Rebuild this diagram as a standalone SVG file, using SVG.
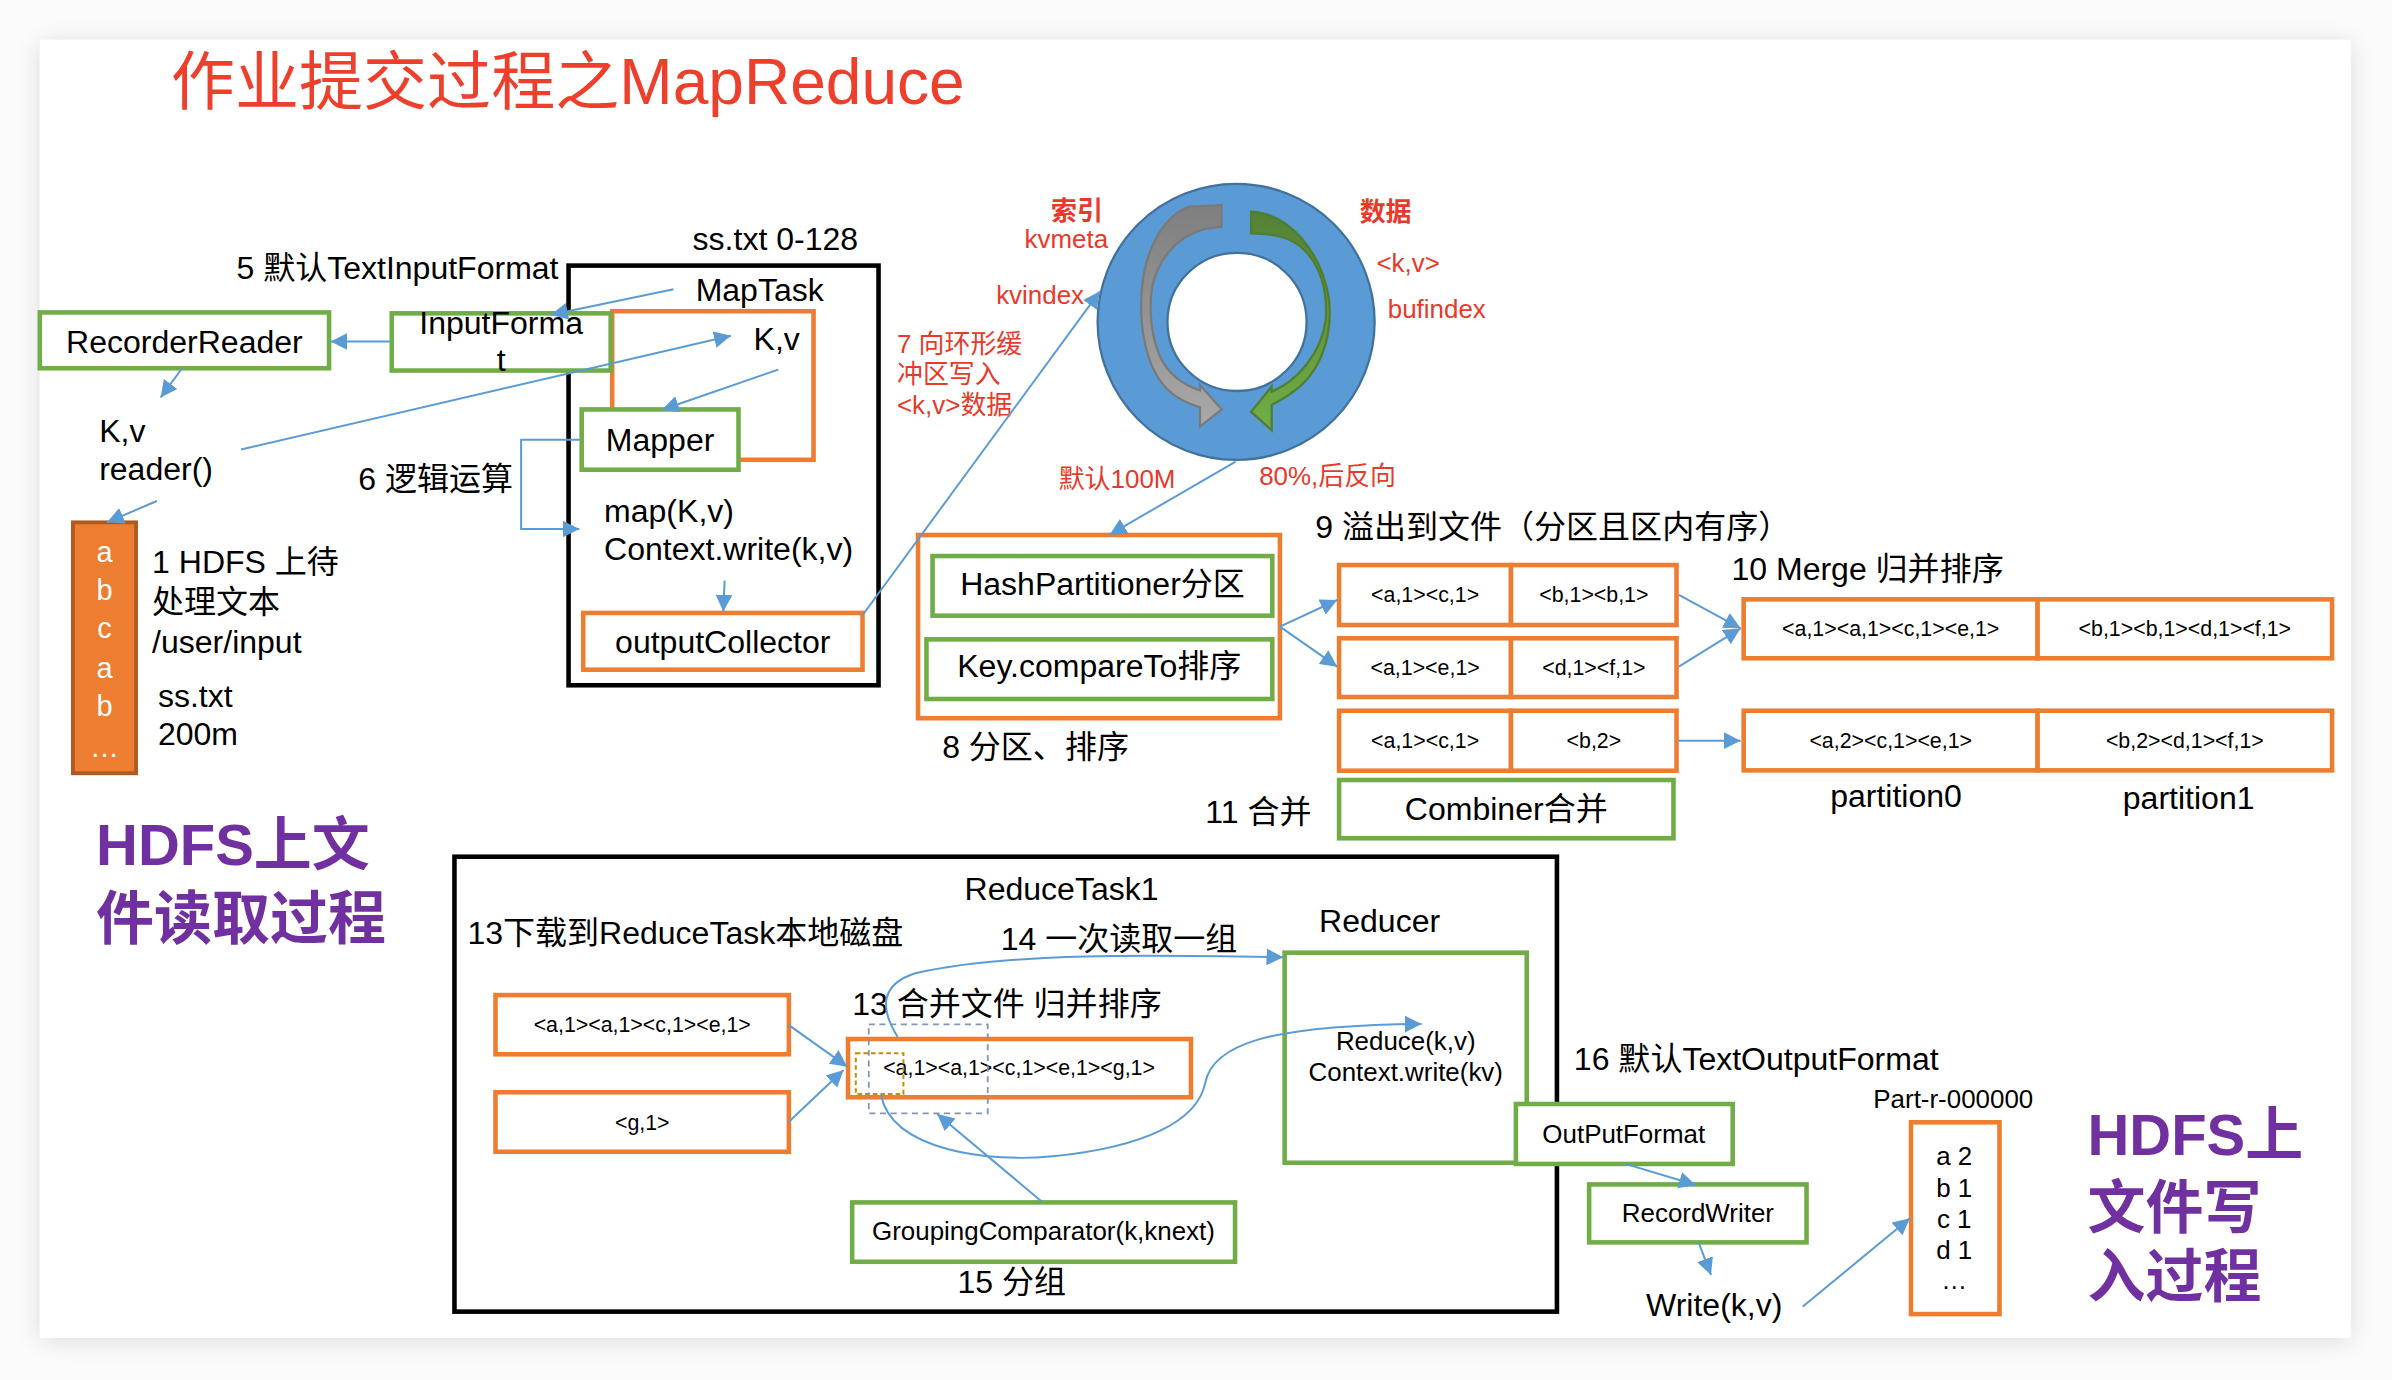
<svg xmlns="http://www.w3.org/2000/svg" width="2392" height="1380" viewBox="0 0 2392 1380">
<defs>
<style>
.t{font-family:"Liberation Sans","Noto Sans CJK SC",sans-serif;fill:#000}
.f21{font-size:21px}.f17{font-size:17px}.f14{font-size:14px}.f19{font-size:19px}
.m{text-anchor:middle}
.red{fill:#e8392a}
.b{font-weight:bold}
.pur{fill:#7030a0;font-weight:bold;font-size:38px}
.ob{fill:#fff;stroke:#ed7d31;stroke-width:3}
.gb{fill:#fff;stroke:#70ad47;stroke-width:3}
.bk{fill:none;stroke:#000;stroke-width:3}
.c{fill:none;stroke:#5b9bd5;stroke-width:1.3;marker-end:url(#ah)}
.n{fill:none;stroke:#5b9bd5;stroke-width:1.3}
</style>
<marker id="ah" markerUnits="userSpaceOnUse" markerWidth="12" markerHeight="12" viewBox="0 0 12 12" refX="11" refY="6" orient="auto">
<path d="M0,0.5 L11,6 L0,11.5 Z" fill="#5b9bd5"/>
</marker>
<linearGradient id="gg" x1="0" y1="0" x2="0" y2="1">
<stop offset="0" stop-color="#7f7f7f"/><stop offset="1" stop-color="#a9a9a9"/>
</linearGradient>
<linearGradient id="gr" x1="0" y1="0" x2="0" y2="1">
<stop offset="0" stop-color="#548235"/><stop offset="1" stop-color="#70ad47"/>
</linearGradient>
<filter id="sh" x="-3%" y="-5%" width="106%" height="110%">
<feGaussianBlur stdDeviation="8"/>
</filter>
</defs>
<rect x="0" y="0" width="2392" height="1380" fill="#fbfbfb"/>
<g transform="scale(1.52551)">
<rect x="26" y="28" width="1515" height="851" fill="#000" opacity="0.12" filter="url(#sh)"/>
<rect x="26" y="26" width="1515" height="851" fill="#fff"/>

<g id="title"><text class="t" x="112" y="68" style="font-size:42px;fill:#ee3f2c">作业提交过程之MapReduce</text></g>

<!-- Map side -->
<g id="maptask">
<rect class="bk" x="372.7" y="174.1" width="203.2" height="275.1"/>
<text class="t f21" x="454" y="164">ss.txt 0-128</text>
<text class="t f21" x="456" y="197">MapTask</text>
<text class="t f21" x="396" y="342.4">map(K,v)</text>
<text class="t f21" x="396" y="367.3">Context.write(k,v)</text>
</g>
<g id="kv-box">
<rect class="ob" x="401.3" y="204" width="132" height="97.4"/>
<text class="t f21" x="494" y="229.7">K,v</text>
</g>
<g id="inputformat">
<rect class="gb" x="256.8" y="205.4" width="143.5" height="37.5"/>
<text class="t f21 m" x="328.5" y="219">InputForma</text>
<text class="t f21 m" x="328.5" y="243">t</text>
</g>
<g id="mapper">
<rect class="gb" x="381.3" y="268.4" width="102.8" height="39.5"/>
<text class="t f21 m" x="432.7" y="295.6">Mapper</text>
</g>
<g id="outputcollector">
<rect class="ob" x="382.3" y="401.8" width="183.1" height="37.2"/>
<text class="t f21 m" x="473.8" y="427.9">outputCollector</text>
</g>
<g id="recorderreader">
<rect class="gb" x="26.1" y="204.8" width="189.6" height="36.6"/>
<text class="t f21 m" x="120.9" y="231.2">RecorderReader</text>
</g>
<g id="label-5"><text class="t f21" x="155" y="183">5 默认TextInputFormat</text></g>
<g id="label-kv-reader">
<text class="t f21" x="65" y="289.7">K,v</text>
<text class="t f21" x="65" y="314.6">reader()</text>
</g>
<g id="label-6"><text class="t f21" x="234.8" y="321.3">6 逻辑运算</text></g>

<g id="hdfs-file">
<rect x="47.8" y="342.4" width="41.4" height="164.5" fill="#ed7d31" stroke="#ae5a21" stroke-width="2.5"/>
<text class="t f19 m" x="68.5" y="368.2" style="fill:#fff">a</text>
<text class="t f19 m" x="68.5" y="393.3" style="fill:#fff">b</text>
<text class="t f19 m" x="68.5" y="418.4" style="fill:#fff">c</text>
<text class="t f19 m" x="68.5" y="444.2" style="fill:#fff">a</text>
<text class="t f19 m" x="68.5" y="469.1" style="fill:#fff">b</text>
<text class="t f19 m" x="68.5" y="496" style="fill:#fff">…</text>
</g>
<g id="label-1">
<text class="t f21" x="99.7" y="375.8">1 HDFS 上待</text>
<text class="t f21" x="99.7" y="402">处理文本</text>
<text class="t f21" x="99.7" y="428.3">/user/input</text>
<text class="t f21" x="103.5" y="463.2">ss.txt</text>
<text class="t f21" x="103.5" y="488.4">200m</text>
</g>
<g id="label-hdfs-read">
<text class="t pur" x="63" y="567">HDFS上文</text>
<text class="t pur" x="63" y="615.8">件读取过程</text>
</g>

<!-- ring buffer -->
<g id="ring">
<path fill-rule="evenodd" fill="#5b9bd5" stroke="#41719c" stroke-width="1.5" d="M719.5,211 A90.8,90.5 0 1,0 901.1,211 A90.8,90.5 0 1,0 719.5,211 Z M765.3,211 A45.6,45.3 0 1,1 856.5,211 A45.6,45.3 0 1,1 765.3,211 Z"/>
<path fill="url(#gg)" stroke="#7a7a7a" stroke-width="1.5" d="M800.8,134.4 L780,135.5 C765,140 752,160 749,185 C746,210 750,240 765,255 C772,262 780,265 786.6,267 L786.6,279.7 L800.8,268.3 L786.6,252.4 L786.6,256 C775,252 766,245 761,235 C755,222 753,205 755,190 C758,172 770,155 790,150 L800.8,148.6 Z"/>
<path fill="url(#gr)" stroke="#507e32" stroke-width="1.5" d="M820.1,138.8 C845,140 866,165 871,195 C874,220 866,245 846,258 C842,261 838,263 833.6,265.4 L833.6,282 L820.1,270 L833.6,253.4 L833.6,256.7 C850,250 866,232 869,210 C871,185 862,165 845,157 C838,154 830,153 820.1,152.9 Z"/>
</g>
<g id="ring-labels">
<text class="t f17 red b" x="689" y="144.2">索引</text>
<text class="t f17 red" x="671.6" y="162.8">kvmeta</text>
<text class="t f17 red" x="653" y="199.3">kvindex</text>
<text class="t f17 red b" x="891.3" y="144.6">数据</text>
<text class="t f17 red" x="902.3" y="178.1">&lt;k,v&gt;</text>
<text class="t f17 red" x="909.7" y="208.7">bufindex</text>
<text class="t f17 red" x="694" y="320.1">默认100M</text>
<text class="t f17 red" x="825.4" y="318">80%,后反向</text>
<text class="t f17 red" x="588" y="231.2">7 向环形缓</text>
<text class="t f17 red" x="588" y="251.1">冲区写入</text>
<text class="t f17 red" x="588" y="271.6">&lt;k,v&gt;数据</text>
</g>

<!-- partition / sort -->
<g id="partition-sort">
<rect class="ob" x="601.8" y="350.7" width="237.2" height="120.1"/>
<rect class="gb" x="611.3" y="364.5" width="222.7" height="39.1"/>
<text class="t f21 m" x="722.7" y="390">HashPartitioner分区</text>
<rect class="gb" x="607.3" y="419.1" width="226.7" height="39.1"/>
<text class="t f21 m" x="720.6" y="443.6">Key.compareTo排序</text>
<text class="t f21" x="617.6" y="497.1">8 分区、排序</text>
</g>
<g id="label-9"><text class="t f21" x="862.2" y="352.9">9 溢出到文件（分区且区内有序）</text></g>
<g id="spill-1">
<rect class="ob" x="877.8" y="370.4" width="112.7" height="39.3"/>
<rect class="ob" x="990.5" y="370.4" width="108.5" height="39.3"/>
<text class="t f14 m" x="934.2" y="394.3">&lt;a,1&gt;&lt;c,1&gt;</text>
<text class="t f14 m" x="1044.8" y="394.3">&lt;b,1&gt;&lt;b,1&gt;</text>
</g>
<g id="spill-2">
<rect class="ob" x="877.8" y="418.4" width="112.7" height="38.5"/>
<rect class="ob" x="990.5" y="418.4" width="108.5" height="38.5"/>
<text class="t f14 m" x="934.2" y="442.4">&lt;a,1&gt;&lt;e,1&gt;</text>
<text class="t f14 m" x="1044.8" y="442.4">&lt;d,1&gt;&lt;f,1&gt;</text>
</g>
<g id="spill-3">
<rect class="ob" x="877.8" y="465.9" width="112.7" height="39.3"/>
<rect class="ob" x="990.5" y="465.9" width="108.5" height="39.3"/>
<text class="t f14 m" x="934.2" y="490.5">&lt;a,1&gt;&lt;c,1&gt;</text>
<text class="t f14 m" x="1044.8" y="490.5">&lt;b,2&gt;</text>
</g>
<g id="combiner">
<rect class="gb" x="877.8" y="511.3" width="219.2" height="38.2"/>
<text class="t f21 m" x="987.4" y="537.3">Combiner合并</text>
<text class="t f21" x="790.1" y="539.7">11 合并</text>
</g>
<g id="label-10"><text class="t f21" x="1135" y="380.2">10 Merge 归并排序</text></g>
<g id="merge-1">
<rect class="ob" x="1143" y="392.9" width="192.7" height="38.6"/>
<rect class="ob" x="1335.7" y="392.9" width="193" height="38.6"/>
<text class="t f14 m" x="1239.4" y="417">&lt;a,1&gt;&lt;a,1&gt;&lt;c,1&gt;&lt;e,1&gt;</text>
<text class="t f14 m" x="1432.2" y="417">&lt;b,1&gt;&lt;b,1&gt;&lt;d,1&gt;&lt;f,1&gt;</text>
</g>
<g id="merge-2">
<rect class="ob" x="1143" y="465.9" width="192.7" height="39.1"/>
<rect class="ob" x="1335.7" y="465.9" width="193" height="39.1"/>
<text class="t f14 m" x="1239.4" y="490.5">&lt;a,2&gt;&lt;c,1&gt;&lt;e,1&gt;</text>
<text class="t f14 m" x="1432.2" y="490.5">&lt;b,2&gt;&lt;d,1&gt;&lt;f,1&gt;</text>
<text class="t f21 m" x="1242.9" y="529.3">partition0</text>
<text class="t f21 m" x="1434.7" y="530">partition1</text>
</g>

<!-- reduce side -->
<g id="reducetask">
<rect class="bk" x="297.9" y="561.6" width="722.7" height="298.2"/>
<text class="t f21" x="632.3" y="590">ReduceTask1</text>
<text class="t f21" x="306.4" y="618.8">13下载到ReduceTask本地磁盘</text>
<text class="t f21" x="656" y="622.7">14 一次读取一组</text>
<text class="t f21" x="864.7" y="610.7">Reducer</text>
<text class="t f21" x="558.6" y="665.4">13 合并文件 归并排序</text>
<text class="t f21" x="627.6" y="847.8">15 分组</text>
</g>
<g id="download-a">
<rect class="ob" x="324.8" y="652.3" width="192.3" height="38.8"/>
<text class="t f14 m" x="421" y="676.8">&lt;a,1&gt;&lt;a,1&gt;&lt;c,1&gt;&lt;e,1&gt;</text>
</g>
<g id="download-b">
<rect class="ob" x="324.8" y="716" width="192.3" height="39"/>
<text class="t f14 m" x="421" y="740.5">&lt;g,1&gt;</text>
</g>
<g id="merged-file">
<rect class="ob" x="555.9" y="681.1" width="224.8" height="38.2"/>
<text class="t f14 m" x="668" y="705">&lt;a,1&gt;&lt;a,1&gt;&lt;c,1&gt;&lt;e,1&gt;&lt;g,1&gt;</text>
<rect x="569.5" y="671.5" width="78" height="58.3" fill="none" stroke="#8497b0" stroke-width="1.2" stroke-dasharray="4 3"/>
<rect x="561" y="690.5" width="31.2" height="26.7" fill="none" stroke="#bf9000" stroke-width="1.3" stroke-dasharray="3 2"/>
</g>
<g id="reducer">
<rect class="gb" x="842.1" y="624.5" width="158.7" height="137.7"/>
<text class="t f17 m" x="921.5" y="688.3">Reduce(k,v)</text>
<text class="t f17 m" x="921.5" y="708.5">Context.write(kv)</text>
</g>
<g id="grouping">
<rect class="gb" x="558.6" y="788.2" width="251" height="38.9"/>
<text class="t f17 m" x="684" y="813">GroupingComparator(k,knext)</text>
</g>
<g id="label-16"><text class="t f21" x="1031.7" y="701.4">16 默认TextOutputFormat</text></g>
<g id="outputformat">
<rect class="gb" x="993.7" y="723.7" width="142.1" height="39.3"/>
<text class="t f17 m" x="1064.4" y="749.4">OutPutFormat</text>
</g>
<g id="recordwriter">
<rect class="gb" x="1041.7" y="776.4" width="142.5" height="38"/>
<text class="t f17 m" x="1113" y="801.3">RecordWriter</text>
</g>
<g id="write"><text class="t f21" x="1079" y="862.7">Write(k,v)</text></g>
<g id="part-file">
<text class="t f17" x="1228" y="726.5">Part-r-000000</text>
<rect class="ob" x="1252.7" y="735.7" width="58" height="125.7"/>
<text class="t f17 m" x="1281" y="764">a 2</text>
<text class="t f17 m" x="1281" y="784.5">b 1</text>
<text class="t f17 m" x="1281" y="804.7">c 1</text>
<text class="t f17 m" x="1281" y="825">d 1</text>
<text class="t f17 m" x="1281" y="845">…</text>
</g>
<g id="label-hdfs-write">
<text class="t pur" x="1368.4" y="757">HDFS上</text>
<text class="t pur" x="1368.4" y="805.2">文件写</text>
<text class="t pur" x="1368.4" y="850">入过程</text>
</g>

<g id="connectors">
<line class="c" x1="441.5" y1="189.6" x2="361.2" y2="206.3"/>
<line class="c" x1="255.9" y1="223.9" x2="216.7" y2="223.9"/>
<line class="c" x1="119.4" y1="241.4" x2="105.3" y2="260.5"/>
<line class="c" x1="158" y1="294.7" x2="479.1" y2="220.1"/>
<line class="c" x1="510.2" y1="242.3" x2="434" y2="268.6"/>
<polyline class="c" points="380.2,288.2 341.6,288.2 341.6,346.8 379.8,346.8"/>
<line class="c" x1="102.8" y1="328.4" x2="70.2" y2="342.4"/>
<line class="c" x1="475" y1="380.5" x2="474.1" y2="400.9"/>
<line class="c" x1="565.4" y1="403.3" x2="721" y2="191"/>
<line class="c" x1="810" y1="302.6" x2="727.4" y2="350.5"/>
<line class="c" x1="839" y1="410.8" x2="876.6" y2="393.3"/>
<line class="c" x1="839" y1="410.8" x2="876.6" y2="437"/>
<line class="c" x1="1100.5" y1="390" x2="1141" y2="411.9"/>
<line class="c" x1="1100.5" y1="437" x2="1141" y2="411.9"/>
<line class="c" x1="1100" y1="485.5" x2="1141" y2="485.5"/>
<line class="c" x1="517.1" y1="672" x2="555.4" y2="699.2"/>
<line class="c" x1="517.1" y1="735.3" x2="553" y2="701.4"/>
<path class="c" d="M588.4,679.6 C576,660 578,645 600,638 C660,624 760,626 841.2,627.5"/>
<path class="c" d="M577.5,717.8 C585,755 650,762 690,758 C750,752 785,735 790,710 C795,685 830,672 931.9,671.2"/>
<line class="c" x1="683" y1="787.7" x2="614.4" y2="730.3"/>
<line class="c" x1="1064.4" y1="762.6" x2="1111.6" y2="776.8"/>
<line class="c" x1="1113.5" y1="814.4" x2="1121.6" y2="835.8"/>
<line class="c" x1="1181.6" y1="856.6" x2="1252" y2="798.6"/>
</g>
</g>
</svg>
